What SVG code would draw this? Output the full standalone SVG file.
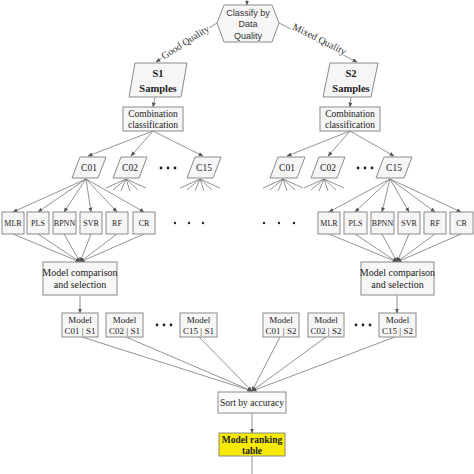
<svg xmlns="http://www.w3.org/2000/svg" width="474" height="474" viewBox="0 0 474 474">
<defs>
<marker id="ah" markerWidth="5" markerHeight="5" refX="4.5" refY="2.5" orient="auto" markerUnits="userSpaceOnUse">
<path d="M0,0.5 L5,2.5 L0,4.5 z" fill="#555"/>
</marker>
<style>
.box{fill:#f6f6f6;stroke:#8a8a8a;stroke-width:1}
.c{stroke:#777;stroke-width:0.8;fill:none}
.a{stroke:#777;stroke-width:0.8;fill:none;marker-end:url(#ah)}
.t{font-family:"Liberation Serif",serif;fill:#222;text-anchor:middle}
.b{font-weight:bold}
.s{font-family:"Liberation Sans",Arial,sans-serif;fill:#333;text-anchor:middle;font-size:9px}
.d{fill:#222}
.lbl{font-family:"Liberation Serif",serif;fill:#333;font-size:10px;text-anchor:middle;stroke:#fff;stroke-width:3;paint-order:stroke}
</style>
</defs>
<rect width="474" height="474" fill="#fff"/>
<g id="connectors">
<line class="a" x1="247" y1="0" x2="247" y2="5"/>
<line class="a" x1="217" y1="23" x2="156" y2="62"/>
<line class="a" x1="279" y1="23" x2="357" y2="62"/>
<line class="a" x1="155" y1="97" x2="153" y2="107"/>
<line class="a" x1="351" y1="97" x2="350" y2="107"/>
<line class="a" x1="153" y1="131" x2="88" y2="156"/>
<line class="a" x1="153" y1="131" x2="131" y2="156"/>
<line class="a" x1="153" y1="131" x2="203" y2="156"/>
<line class="a" x1="350" y1="131" x2="287" y2="156"/>
<line class="a" x1="350" y1="131" x2="328" y2="156"/>
<line class="a" x1="350" y1="131" x2="394" y2="156"/>
<g class="c">
<path d="M126,179 L106,188 M126,179 L113,190 M126,179 L121,191 M126,179 L130,191 M126,179 L138,190 M126,179 L146,188"/>
<path d="M200,179 L180,188 M200,179 L187,190 M200,179 L195,191 M200,179 L204,191 M200,179 L212,190 M200,179 L220,188"/>
<path d="M283,179 L263,188 M283,179 L270,190 M283,179 L278,191 M283,179 L287,191 M283,179 L295,190 M283,179 L303,188"/>
<path d="M324,179 L304,188 M324,179 L311,190 M324,179 L319,191 M324,179 L328,191 M324,179 L336,190 M324,179 L344,188"/>
</g>
<line class="a" x1="86" y1="179" x2="13" y2="212"/>
<line class="a" x1="86" y1="179" x2="38" y2="212"/>
<line class="a" x1="86" y1="179" x2="64" y2="212"/>
<line class="a" x1="86" y1="179" x2="91" y2="212"/>
<line class="a" x1="86" y1="179" x2="117" y2="212"/>
<line class="a" x1="86" y1="179" x2="144" y2="212"/>
<line class="a" x1="390" y1="179" x2="329" y2="212"/>
<line class="a" x1="390" y1="179" x2="355" y2="212"/>
<line class="a" x1="390" y1="179" x2="382" y2="212"/>
<line class="a" x1="390" y1="179" x2="409" y2="212"/>
<line class="a" x1="390" y1="179" x2="435" y2="212"/>
<line class="a" x1="390" y1="179" x2="461" y2="212"/>
<line class="a" x1="13" y1="234" x2="80" y2="262"/>
<line class="a" x1="38" y1="234" x2="80" y2="262"/>
<line class="a" x1="64" y1="234" x2="80" y2="262"/>
<line class="a" x1="91" y1="234" x2="80" y2="262"/>
<line class="a" x1="117" y1="234" x2="80" y2="262"/>
<line class="a" x1="144" y1="234" x2="80" y2="262"/>
<line class="a" x1="329" y1="234" x2="397" y2="262"/>
<line class="a" x1="355" y1="234" x2="397" y2="262"/>
<line class="a" x1="382" y1="234" x2="397" y2="262"/>
<line class="a" x1="409" y1="234" x2="397" y2="262"/>
<line class="a" x1="435" y1="234" x2="397" y2="262"/>
<line class="a" x1="461" y1="234" x2="397" y2="262"/>
<line class="a" x1="80" y1="295" x2="80" y2="313"/>
<line class="a" x1="397" y1="295" x2="397" y2="313"/>
<line class="a" x1="82" y1="337" x2="252" y2="391"/>
<line class="a" x1="126" y1="337" x2="252" y2="391"/>
<line class="a" x1="199" y1="337" x2="252" y2="391"/>
<line class="a" x1="280" y1="337" x2="252" y2="391"/>
<line class="a" x1="326" y1="337" x2="252" y2="391"/>
<line class="a" x1="395" y1="337" x2="252" y2="391"/>
<line class="a" x1="252" y1="413" x2="252" y2="433"/>
<line class="c" x1="252" y1="456" x2="252" y2="474"/>
<text class="lbl" transform="translate(187,45) rotate(-32.6)">Good Quality</text>
<text class="lbl" transform="translate(318,42) rotate(26.6)">Mixed Quality</text>
</g>
<g id="classify">
<polygon class="box" points="217,23 224,5 272,5 279,23 272,42 224,42"/>
<text class="s" x="248" y="15.5">Classify by</text>
<text class="s" x="248" y="27">Data</text>
<text class="s" x="248" y="38.5">Quality</text>
</g>
<g id="s1">
<polygon class="box" points="135,63 187,63 181,97 129,97"/>
<text class="t b" x="158" y="77" font-size="10.5">S1</text>
<text class="t b" x="158" y="92" font-size="10.5">Samples</text>
</g>
<g id="s2">
<polygon class="box" points="330,63 378,63 371,97 323,97"/>
<text class="t b" x="351" y="77" font-size="10.5">S2</text>
<text class="t b" x="351" y="92" font-size="10.5">Samples</text>
</g>
<g id="comb1">
<rect class="box" x="123" y="107" width="60" height="24"/>
<text class="t" x="153" y="117" font-size="9.5">Combination</text>
<text class="t" x="153" y="128" font-size="9.5">classification</text>
</g>
<g id="comb2">
<rect class="box" x="320" y="107" width="60" height="24"/>
<text class="t" x="350" y="117" font-size="9.5">Combination</text>
<text class="t" x="350" y="128" font-size="9.5">classification</text>
</g>
<g id="c01-left"><polygon class="box" points="80,157 106,157 98,178 72,178"/><text class="t" x="89" y="171" font-size="9.5">C01</text></g>
<g id="c02-left"><polygon class="box" points="121,157 147,157 139,178 113,178"/><text class="t" x="130" y="171" font-size="9.5">C02</text></g>
<g id="c15-left"><polygon class="box" points="195,157 221,157 213,178 187,178"/><text class="t" x="204" y="171" font-size="9.5">C15</text></g>
<g id="c01-right"><polygon class="box" points="278,157 305,157 297,178 270,178"/><text class="t" x="287" y="171" font-size="9.5">C01</text></g>
<g id="c02-right"><polygon class="box" points="319,157 345,157 337,178 311,178"/><text class="t" x="328" y="171" font-size="9.5">C02</text></g>
<g id="c15-right"><polygon class="box" points="384,157 412,157 404,178 376,178"/><text class="t" x="394" y="171" font-size="9.5">C15</text></g>
<g id="dots" class="d">
<circle cx="161" cy="168" r="1.4"/><circle cx="168" cy="168" r="1.4"/><circle cx="175" cy="168" r="1.4"/>
<circle cx="358" cy="168" r="1.4"/><circle cx="365" cy="168" r="1.4"/><circle cx="372" cy="168" r="1.4"/>
<circle cx="175" cy="223" r="1.2"/><circle cx="189" cy="223" r="1.2"/><circle cx="203" cy="223" r="1.2"/>
<circle cx="264" cy="223" r="1.2"/><circle cx="279" cy="223" r="1.2"/><circle cx="294" cy="223" r="1.2"/>
<circle cx="157" cy="325" r="1.4"/><circle cx="164" cy="325" r="1.4"/><circle cx="171" cy="325" r="1.4"/>
<circle cx="356" cy="325" r="1.4"/><circle cx="363" cy="325" r="1.4"/><circle cx="370" cy="325" r="1.4"/>
</g>
<g id="mlr-left"><rect class="box" x="2" y="212" width="22" height="22"/><text class="t" x="13" y="226" font-size="8">MLR</text></g>
<g id="pls-left"><rect class="box" x="27" y="212" width="22" height="22"/><text class="t" x="38" y="226" font-size="8">PLS</text></g>
<g id="bpnn-left"><rect class="box" x="53" y="212" width="23" height="22"/><text class="t" x="64.5" y="226" font-size="8">BPNN</text></g>
<g id="svr-left"><rect class="box" x="80" y="212" width="22" height="22"/><text class="t" x="91" y="226" font-size="8">SVR</text></g>
<g id="rf-left"><rect class="box" x="106" y="212" width="22" height="22"/><text class="t" x="117" y="226" font-size="8">RF</text></g>
<g id="cr-left"><rect class="box" x="133" y="212" width="22" height="22"/><text class="t" x="144" y="226" font-size="8">CR</text></g>
<g id="mlr-right"><rect class="box" x="318" y="212" width="22" height="22"/><text class="t" x="329" y="226" font-size="8">MLR</text></g>
<g id="pls-right"><rect class="box" x="344" y="212" width="23" height="22"/><text class="t" x="355.5" y="226" font-size="8">PLS</text></g>
<g id="bpnn-right"><rect class="box" x="371" y="212" width="23" height="22"/><text class="t" x="382.5" y="226" font-size="8">BPNN</text></g>
<g id="svr-right"><rect class="box" x="398" y="212" width="22" height="22"/><text class="t" x="409" y="226" font-size="8">SVR</text></g>
<g id="rf-right"><rect class="box" x="424" y="212" width="22" height="22"/><text class="t" x="435" y="226" font-size="8">RF</text></g>
<g id="cr-right"><rect class="box" x="450" y="212" width="23" height="22"/><text class="t" x="461.5" y="226" font-size="8">CR</text></g>
<g id="mcs-left">
<rect class="box" x="43" y="262" width="74" height="33"/>
<text class="t" x="80" y="276" font-size="10">Model comparison</text>
<text class="t" x="80" y="288" font-size="10">and selection</text>
</g>
<g id="mcs-right">
<rect class="box" x="361" y="262" width="73" height="33"/>
<text class="t" x="397.5" y="276" font-size="10">Model comparison</text>
<text class="t" x="397.5" y="288" font-size="10">and selection</text>
</g>
<g id="m-c01-s1"><rect class="box" x="62" y="313" width="36" height="24"/><text class="t" x="80" y="323" font-size="9">Model</text><text class="t" x="80" y="334" font-size="9">C01 | S1</text></g>
<g id="m-c02-s1"><rect class="box" x="106" y="313" width="37" height="24"/><text class="t" x="124.5" y="323" font-size="9">Model</text><text class="t" x="124.5" y="334" font-size="9">C02 | S1</text></g>
<g id="m-c15-s1"><rect class="box" x="180" y="313" width="37" height="24"/><text class="t" x="198.5" y="323" font-size="9">Model</text><text class="t" x="198.5" y="334" font-size="9">C15 | S1</text></g>
<g id="m-c01-s2"><rect class="box" x="263" y="313" width="36" height="24"/><text class="t" x="281" y="323" font-size="9">Model</text><text class="t" x="281" y="334" font-size="9">C01 | S2</text></g>
<g id="m-c02-s2"><rect class="box" x="308" y="313" width="36" height="24"/><text class="t" x="326" y="323" font-size="9">Model</text><text class="t" x="326" y="334" font-size="9">C02 | S2</text></g>
<g id="m-c15-s2"><rect class="box" x="379" y="313" width="37" height="24"/><text class="t" x="397.5" y="323" font-size="9">Model</text><text class="t" x="397.5" y="334" font-size="9">C15 | S2</text></g>
<g id="sort">
<rect class="box" x="218" y="392" width="68" height="21" style="fill:#fafafa"/>
<text class="t" x="252" y="406" font-size="9.5">Sort by accuracy</text>
</g>
<g id="ranking">
<rect x="219" y="433" width="66" height="23" fill="#f7ea00" stroke="#8a8a8a" stroke-width="1"/>
<text class="t b" x="252" y="443" font-size="9.5">Model ranking</text>
<text class="t b" x="252" y="454" font-size="9.5">table</text>
</g>
</svg>
